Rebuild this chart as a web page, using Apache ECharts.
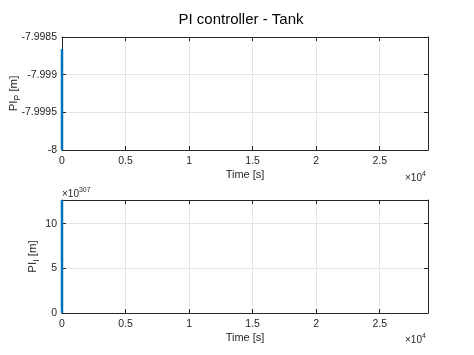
<!DOCTYPE html>
<html><head><meta charset="utf-8">
<script src="https://cdn.jsdelivr.net/npm/echarts@6/dist/echarts.min.js"></script>
<style>html,body{margin:0;padding:0;background:#fff}#c{width:474px;height:355px}</style>
</head><body><div id="c"></div>
<script>
// Data
const timeP = [0, 0];                // seconds
const valuesP = [-8, -7.99866];      // PI_P [m]
const timeI = [0, 0];                // seconds
const valuesI = [0, 12.65];          // PI_I [m] in units of 1e307
const xTicks = [0, 0.5, 1, 1.5, 2, 2.5]; // x tick labels (x1e4)
const yTicksP = [-8, -7.9995, -7.999, -7.9985];
const yTicksI = [0, 5, 10];

const FONT = '"Liberation Sans", Arial, sans-serif';
const TXT = '#262626';
const AX = '#262626';
const GRIDC = '#e5e5e5';
const chart = echarts.init(document.getElementById('c'), null, {renderer: 'canvas'});

function fmtX(v){ return String(Math.round(v/1e4*100)/100); }
function fmtY(v){ return String(Math.round(v*1e4)/1e4); }

const grids = [
  {left: 62, top: 37, width: 366, height: 113, show: false, containLabel: false, outerBoundsMode: 'none'},
  {left: 62, top: 200, width: 366, height: 113, show: false, containLabel: false, outerBoundsMode: 'none'}
];

function mainX(gi){
  return {type:'value', gridIndex: gi, min: 0, max: 28800, interval: 5000, position:'bottom',
    axisLine:{show:true, onZero:false, lineStyle:{color:AX, width:1}},
    axisTick:{show:true, inside:true, length:4, lineStyle:{color:AX}},
    axisLabel:{show:true, color:TXT, fontSize:10.5, fontFamily:FONT, margin:6, formatter: fmtX, showMaxLabel:false},
    splitLine:{show:true, lineStyle:{color:GRIDC, width:1}},
    name:'Time [s]', nameLocation:'middle', nameGap:19, nameMoveOverlap:false,
    nameTextStyle:{color:TXT, fontSize:11, fontFamily:FONT}};
}
function boxX(gi){
  return {type:'value', gridIndex: gi, min: 0, max: 28800, interval: 5000, position:'top',
    axisLine:{show:true, onZero:false, lineStyle:{color:AX, width:1}},
    axisTick:{show:true, inside:true, length:4, lineStyle:{color:AX}},
    axisLabel:{show:false}, splitLine:{show:false}};
}
function mainY(gi, min, max, interval, nameRich, showMax, gap){
  return {type:'value', gridIndex: gi, min, max, interval, position:'left',
    axisLine:{show:true, onZero:false, lineStyle:{color:AX, width:1}},
    axisTick:{show:true, inside:true, length:4, lineStyle:{color:AX}},
    axisLabel:{show:true, color:TXT, fontSize:10.5, fontFamily:FONT, margin:5, formatter: fmtY, showMaxLabel: showMax},
    splitLine:{show:true, lineStyle:{color:GRIDC, width:1}},
    name: nameRich, nameLocation:'middle', nameGap: gap, nameRotate: 90, nameMoveOverlap:false,
    nameTextStyle:{color:TXT, fontSize:11.5, fontFamily:FONT,
      rich:{
        b:{fontSize:11.5, fontFamily:FONT, color:TXT, lineHeight:16, verticalAlign:'middle'},
        s:{fontSize:8.5, fontFamily:FONT, color:TXT, lineHeight:8, verticalAlign:'bottom'}
      }}};
}
function boxY(gi, min, max, interval){
  return {type:'value', gridIndex: gi, min, max, interval, position:'right',
    axisLine:{show:true, onZero:false, lineStyle:{color:AX, width:1}},
    axisTick:{show:true, inside:true, length:4, lineStyle:{color:AX}},
    axisLabel:{show:false}, splitLine:{show:false}};
}

const supRich = {
  b:{fontSize:10, fontFamily:FONT, fill:TXT, lineHeight:14, verticalAlign:'middle'},
  e:{fontSize:7, fontFamily:FONT, fill:TXT, lineHeight:7, verticalAlign:'top'}
};

const option = {
  animation: false,
  backgroundColor: '#fff',
  title: {text:'PI controller - Tank', left: 236, textAlign:'center', top: 7,
    textStyle:{color:'#000', fontSize:15, fontWeight:'normal', fontFamily:FONT}},
  grid: grids,
  xAxis: [mainX(0), boxX(0), mainX(1), boxX(1)],
  yAxis: [mainY(0, -8, -7.9985, 0.0005, '{b|PI}{s|P}{b| [m]}', true, 40), boxY(0, -8, -7.9985, 0.0005),
          mainY(1, 0, 12.65, 5, '{b|PI}{s|I}{b| [m]}', false, 21), boxY(1, 0, 12.65, 5)],
  series: [
    {type:'line', xAxisIndex:0, yAxisIndex:0, data: timeP.map((t,i)=>[t, valuesP[i]]),
      showSymbol:false, lineStyle:{color:'#0072BD', width:2.5}, clip:true},
    {type:'line', xAxisIndex:2, yAxisIndex:2, data: timeI.map((t,i)=>[t, valuesI[i]]),
      showSymbol:false, lineStyle:{color:'#0072BD', width:2.5}, clip:true}
  ],
  graphic: [
    {type:'text', left: 405, top: 171, style:{text:'{b|×10}{e|4}', rich: supRich}},
    {type:'text', left: 405, top: 333, style:{text:'{b|×10}{e|4}', rich: supRich}},
    {type:'text', left: 62, top: 187, style:{text:'{b|×10}{e|307}', rich: supRich}}
  ]
};
chart.setOption(option);
</script></body></html>
